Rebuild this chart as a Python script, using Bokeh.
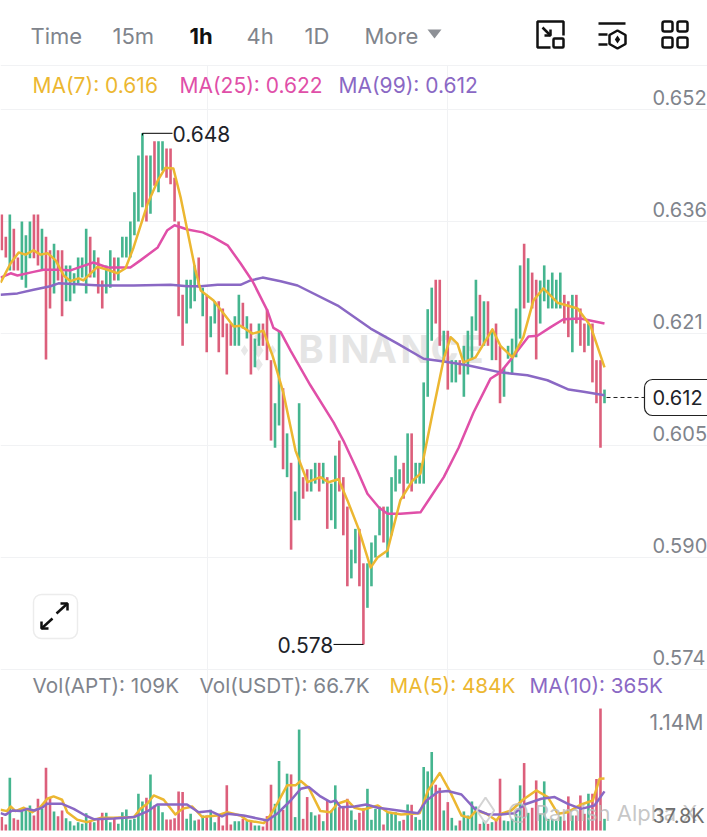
from bokeh.plotting import figure
from bokeh.models import Range1d, FixedTicker
from bokeh.core.properties import value
from bokeh.embed import file_html
from bokeh.resources import INLINE

# ---------- data ----------
candle_dir = "".join(["RRGRRGGGRR","GRRGRRGGGG","GGRGRRGGRG","GGGGGGRGRG","GRRRRRGGGR",
                      "GRGGRRRRGG","RGRGGRRRGG","RGRGGRRGGR","GRGGRRRGGR","RGGGGRGGGG",
                      "RGRGGGGGRR","GRGGRGGGGR","GRGRRGGGGG","RGRRGGGGGG","RRGRRRGRRRG"])
high = [.6374,.6343,.6374,.6354,.6314,.6364,.6345,.6364,.6374,.6374,
        .6354,.6343,.6324,.6333,.6324,.6324,.6303,.6303,.6292,.6314,
        .6314,.6354,.6343,.6324,.6314,.6282,.6303,.6324,.6314,.6314,
        .6343,.6343,.6364,.6405,.6456,.6487,.6456,.6456,.6476,.6476,
        .6476,.6466,.6466,.6425,.6364,.6262,.6283,.6283,.6303,.6314,
        .6272,.6262,.6232,.6253,.6253,.6243,.6222,.6222,.6232,.6262,
        .6251,.6232,.6222,.6201,.6222,.6222,.6242,.6171,.6111,.6211,
        .6132,.6069,.6028,.5988,.6111,.6008,.6019,.6019,.6028,.6028,
        .6028,.6008,.5999,.6038,.6059,.6008,.5967,.5907,.5936,.5936,
        .5888,.5888,.5917,.5927,.5967,.5967,.5967,.6008,.6038,.6019,
        .6028,.6069,.6069,.6028,.6028,.6140,.6242,.6272,.6283,.6283,
        .6212,.6212,.6171,.6171,.6171,.6191,.6212,.6232,.6283,.6262,
        .6253,.6253,.6212,.6222,.6191,.6161,.6191,.6201,.6243,.6303,
        .6333,.6313,.6293,.6283,.6282,.6303,.6283,.6293,.6283,.6293,
        .6262,.6253,.6262,.6262,.6243,.6222,.6222,.6222,.6171,.6171,.6130]
low = [.6324,.6314,.6296,.6296,.6296,.6283,.6272,.6313,.6313,.6303,
       .6296,.6172,.6243,.6264,.6282,.6232,.6253,.6253,.6264,.6278,
       .6286,.6264,.6286,.6286,.6264,.6243,.6264,.6272,.6282,.6282,
       .6314,.6314,.6314,.6345,.6364,.6384,.6364,.6375,.6414,.6405,
       .6435,.6425,.6416,.6364,.6232,.6191,.6222,.6243,.6253,.6272,
       .6232,.6182,.6203,.6222,.6182,.6203,.6151,.6191,.6191,.6191,
       .6215,.6201,.6151,.6161,.6191,.6191,.6171,.6059,.6049,.6080,
       .6019,.6008,.5907,.5948,.5948,.5978,.5988,.5988,.5999,.5988,
       .5999,.5936,.5948,.5936,.5988,.5927,.5856,.5867,.5888,.5856,
       .5775,.5826,.5856,.5896,.5927,.5917,.5896,.5927,.5988,.5999,
       .5978,.5999,.5988,.5999,.5999,.5999,.6120,.6198,.6222,.6191,
       .6168,.6130,.6140,.6140,.6151,.6120,.6151,.6171,.6212,.6191,
       .6191,.6191,.6171,.6171,.6111,.6120,.6173,.6151,.6175,.6201,
       .6243,.6251,.6243,.6172,.6222,.6253,.6243,.6243,.6243,.6243,
       .6222,.6203,.6182,.6222,.6191,.6182,.6191,.6140,.6111,.6049,.6111]
volume_k = [125,56,492,115,100,187,202,234,140,296,202,586,312,178,134,187,115,87,47,78,
            62,162,93,78,109,165,165,78,109,62,171,196,100,109,343,271,305,523,234,234,
            171,103,103,115,364,358,109,156,93,103,140,140,193,78,140,47,421,56,87,87,
            109,93,93,47,47,37,134,427,249,648,193,530,523,125,941,109,312,171,140,150,
            87,280,187,421,218,218,296,187,100,165,209,389,100,202,212,56,171,171,171,87,
            100,243,240,125,100,592,551,732,427,399,187,265,118,47,93,178,140,271,224,62,
            93,62,78,93,483,93,87,109,156,421,629,165,212,467,156,458,109,109,93,131,
            93,318,140,140,327,156,343,343,480,1137,109]

ma7_k = [-.3,2.2,4.2,5.9,7.9,9.6,11.4,13.4,15.4,17.1,19.1,20.3,23.8,26.3,28.8,30.8,32.8,36.3,38.8,40.7,
         42.7,44.5,48.2,49.5,52.7,55.2,57.7,59.4,62.4,65.1,67.4,70.1,73.1,76.1,79.3,81.3,83.8,86,88.8,91.8,
         93.5,96,99.2,102.2,104.2,107.2,110,111.7,113.4,114.9,117.9,122.1,124.1,127.1,129.8,132.3,134.8,138.3,143.3,146.5,150]
ma7 = [.6279,.6306,.6321,.6318,.6324,.6318,.6320,.6310,.6289,.6281,.6285,.6282,.6301,.6297,.6292,.6299,.6328,.6389,.6421,.6439,
       .6438,.6398,.6296,.6268,.6254,.6236,.6218,.6219,.6208,.6212,.6177,.6125,.6045,.6001,.6008,.6001,.6005,.5976,.5936,.5882,
       .5896,.5906,.5976,.6003,.6013,.6097,.6173,.6203,.6194,.6168,.6175,.6214,.6191,.6175,.6203,.6254,.6271,.6251,.6243,.6219,.6161]
ma25_k = [-.3,2.2,3.9,7.9,10.4,14.6,17.1,19.6,22.8,26.3,32,34.5,38.8,41.2,43,46.2,50,52.7,56.2,59.4,62.4,66.1,67.6,
          69.4,71.9,76.8,82.6,85,88.5,91,93.8,96,99.2,104.2,106.7,110,113.7,117.4,121.6,124.1,127.4,131.1,133.3,136.6,139.8,144,150]
ma25 = [.6286,.6292,.6289,.6294,.6297,.6297,.6296,.6301,.6307,.6300,.6300,.6310,.6328,.6352,.6359,.6353,.6349,.6342,.6331,.6306,.6281,.6240,.6216,
        .6210,.6184,.6136,.6084,.6059,.6017,.5985,.5966,.5957,.5957,.5959,.5980,.6008,.6049,.6098,.6145,.6154,.6177,.6204,.6205,.6217,.6228,.6229,.6222]
ma99_k = [-.3,3.9,7.9,12.1,14.1,24.6,32.8,42,46.2,49.5,53.7,59.4,61.9,64.9,69.4,73.6,83.6,91.8,98.5,105,110,115.9,124.1,130.8,135.8,141.1,144.8,150]
ma99 = [.6262,.6264,.6269,.6274,.6278,.6275,.6275,.6276,.6274,.6274,.6276,.6276,.6282,.6286,.6281,.6275,.6247,.6215,.6194,.6173,.6169,.6164,.6154,.6150,.6143,.6130,.6127,.6122]

vma5_k = [-.3,1.3,2.2,3.4,5.5,7.6,9.6,11.3,12.9,15,16.3,18.8,21.2,24.6,27.9,32.9,34.5,36.2,37.8,40.3,43.2,44.9,47.4,49.9,53.6,56.1,59.4,61.1,65.2,66.5,
          68.5,71,73.1,74.4,76.4,79.3,81.8,83.5,86,87.8,89.9,93.6,96.1,99.4,104,106.1,109,111.4,114.4,116.4,118.1,120.6,123.1,124.3,126.8,129.7,133,135.9,138.4,140.9,144.2,147.1,148.8,150]
vma5 = [193,181,224,181,212,171,218,296,318,287,171,100,78,118,118,125,202,249,327,287,150,202,224,125,140,171,140,93,69,125,
        249,421,421,461,399,181,171,249,280,212,193,234,171,150,162,374,536,374,140,118,187,156,93,156,187,287,374,312,156,171,243,280,483,484]
vma10_k = [-.3,.9,2.6,4.7,6.3,8,10,11.3,15,17.9,20.8,22.9,27.9,32.9,36.2,38.7,43.7,46.1,49,51.9,54.8,56.1,60.2,66.1,68.5,71.9,74.4,76.4,79.3,81.8,83.1,84.3,
           87.8,90.7,93.6,96.9,103.6,105.7,108.5,111,114.4,117.7,121,124.3,127.7,130.1,134.3,137.6,140.9,144.2,147.5,150]
vma10 = [162,146,187,181,202,187,212,249,249,202,140,106,112,125,178,243,243,243,171,181,131,156,140,93,156,280,389,405,318,265,280,218,
         224,243,212,196,162,280,358,368,336,202,150,150,162,243,296,312,249,202,234,365]

price_ticks = [.652,.6364,.6208,.6052,.5896,.574]
price_labels = ["0.652","0.636","0.621","0.605","0.590","0.574"]
intervals = ["Time","15m","1h","4h","1D","More"]
last_price = .6119
peak_price, trough_price = .6487, .5775
peak_label, trough_label = "0.648", "0.578"

# ---------- look ----------
GREEN, RED = "#45b58f", "#dc5f7b"
YELLOW, PINK, PURPLE = "#ecb731", "#e04fa8", "#8a68c4"
GREY, GRID = "#80848c", "#f1f2f4"
FONT = value("Inter")
LW = 2.5
BAR = 0.65

W, H = 707, 837
K0 = 1.3          # image x of candle 0
DX = 4.018        # image px per candle
k_at = lambda x: (x - K0) / DX

p = figure(width=W, height=H, output_backend="svg", toolbar_location=None,
           x_range=Range1d(k_at(0), k_at(W)),
           y_range=Range1d(.6672 - .0001393 * H, .6672),
           min_border=0, outline_line_color=None, background_fill_color="white")
p.xaxis.visible = False
p.yaxis.visible = False
p.xgrid.visible = False
p.ygrid.ticker = FixedTicker(ticks=price_ticks)
p.ygrid.grid_line_color = GRID
p.ygrid.grid_line_width = 1

p.extra_x_ranges["px"] = Range1d(0, W)
p.extra_y_ranges["px"] = Range1d(H, 0)
p.extra_y_ranges["vol"] = Range1d(-65, 7736)
PX = dict(x_range_name="px", y_range_name="px")

def txt(x, y, s, color, size, style="normal", **kw):
    p.text([x], [y], text=[s], text_color=color, text_font=FONT, text_font_size=f"{size}px",
           text_font_style=style, text_baseline="middle", **PX, **kw)

# rules
p.segment([0], [65], [W], [65], line_color=GRID, line_width=1, **PX)
p.segment([207, 447], [65, 65], [207, 447], [830, 830], line_color=GRID, line_width=1, **PX)

# watermarks (behind the data)
for x, s in zip([298, 327, 340, 368, 400, 430, 460], "BINANCE"):
    txt(x, 348, s, "#e5e5e5", 38, "bold")
for cx, cy, sz in [(258, 350, 15), (244, 350, 11), (272, 350, 11), (258, 336, 13), (258, 364, 13)]:
    p.scatter([cx], [cy], size=sz, marker="diamond", fill_color="#e8e8e8", line_color=None, **PX)

# candles
idx = list(range(len(high)))
colors = [GREEN if d == "G" else RED for d in candle_dir]
p.vbar(x=idx, top=high, bottom=low, width=BAR, fill_color=colors, line_color=None)

# moving averages
p.line(ma99_k, ma99, line_color=PURPLE, line_width=LW, line_join="round")
p.line(ma25_k, ma25, line_color=PINK, line_width=LW, line_join="round")
p.line(ma7_k, ma7, line_color=YELLOW, line_width=LW, line_join="round")

# volume
p.vbar(x=idx, top=volume_k, bottom=0, width=BAR, fill_color=colors, line_color=None, y_range_name="vol")
p.line(vma5_k, vma5, line_color=YELLOW, line_width=LW, line_join="round", y_range_name="vol")
p.line(vma10_k, vma10, line_color=PURPLE, line_width=LW, line_join="round", y_range_name="vol")

# price tick labels
p.text(x=[k_at(652)] * 6, y=price_ticks, text=price_labels, text_color=GREY, text_font=FONT,
       text_font_size="20px", text_baseline="middle", y_offset=-12)

# peak / trough markers
p.segment([k_at(142)], [peak_price], [k_at(172)], [peak_price], line_color="black", line_width=1)
p.segment([k_at(142)], [peak_price], [k_at(142)], [peak_price - .0003], line_color="black", line_width=1)
p.text(x=[k_at(172)], y=[peak_price], text=[peak_label], text_color="#1e2329", text_font=FONT,
       text_font_size="21px", text_baseline="middle", y_offset=1)
p.segment([k_at(333)], [trough_price], [k_at(363)], [trough_price], line_color="black", line_width=1)
p.text(x=[k_at(277)], y=[trough_price], text=[trough_label], text_color="#1e2329", text_font=FONT,
       text_font_size="21px", text_baseline="middle", y_offset=1)

# last price
p.segment([k_at(606)], [last_price], [k_at(644)], [last_price], line_color="#222222", line_width=1, line_dash="4 3")
p.quad(left=[644], right=[725], top=[379], bottom=[415], fill_color="white", line_color="#222222",
       line_width=1.2, border_radius=8, **PX)
txt(652, 397, "0.612", "#1e2329", 20)

# header tabs
for x, s in zip([30, 112, 189, 246, 304, 364], intervals):
    active = s == "1h"
    txt(x, 35, s, "#111111" if active else GREY, 22, "bold" if active else "normal")
p.patch([427, 441, 434], [29, 29, 38], fill_color="#8d9096", line_color=None, **PX)

# MA legend
txt(32, 85, "MA(7): 0.616", YELLOW, 21)
txt(179, 85, "MA(25): 0.622", PINK, 21)
txt(338, 85, "MA(99): 0.612", PURPLE, 21)

# volume legend
txt(32, 685, "Vol(APT): 109K", GREY, 20.7)
txt(199, 685, "Vol(USDT): 66.7K", GREY, 20.7)
txt(389, 685, "MA(5): 484K", YELLOW, 20.7)
txt(529, 685, "MA(10): 365K", PURPLE, 20.7)
txt(649, 722, "1.14M", GREY, 21)

# bottom watermark and small label
txt(507, 812, "@ Ramish Alpha X", "#bdbdbd", 22, text_alpha=0.85)
p.scatter([485], [810], size=26, marker="diamond", fill_color=None, line_color="#d4d4d4", line_width=2, **PX)
txt(652, 815, "37.8K", "#6f6f6f", 20)

# icons
INK = "#111111"
ic = dict(line_color=INK, line_width=2.5, **PX)
p.multi_line([[563, 563, 537, 537, 550], [542, 550], [550, 550, 544]],
             [[35, 21, 21, 47, 47], [27, 35], [29, 35, 35]], **ic)
p.quad(left=[553], right=[563], top=[38], bottom=[47], fill_color="white", border_radius=1, **ic)
p.multi_line([[598, 625], [598, 607], [598, 607]], [[23, 23], [34, 34], [44, 44]], **ic)
p.patch([617, 625, 625, 617, 609, 609], [30, 34.5, 43.5, 48, 43.5, 34.5], fill_color="white", **ic)
p.scatter([617], [39], size=8, marker="diamond", fill_color=INK, line_color=None, **PX)
p.quad(left=[662, 677, 662, 677], right=[672, 687, 672, 687], top=[21, 21, 37, 37], bottom=[31, 31, 47, 47],
       fill_color="white", border_radius=2, **ic)

# expand button
p.quad(left=[33], right=[77], top=[594], bottom=[638], fill_color="white", line_color="#ececec",
       line_width=1.5, border_radius=8, **PX)
p.multi_line([[56, 67], [60, 67, 67], [52, 41], [48, 41, 41]],
             [[613, 603], [603, 603, 610], [618, 628], [628, 628, 621]], line_color=INK, line_width=2.5, **PX)

open("out.html", "w").write(file_html(p, INLINE))
